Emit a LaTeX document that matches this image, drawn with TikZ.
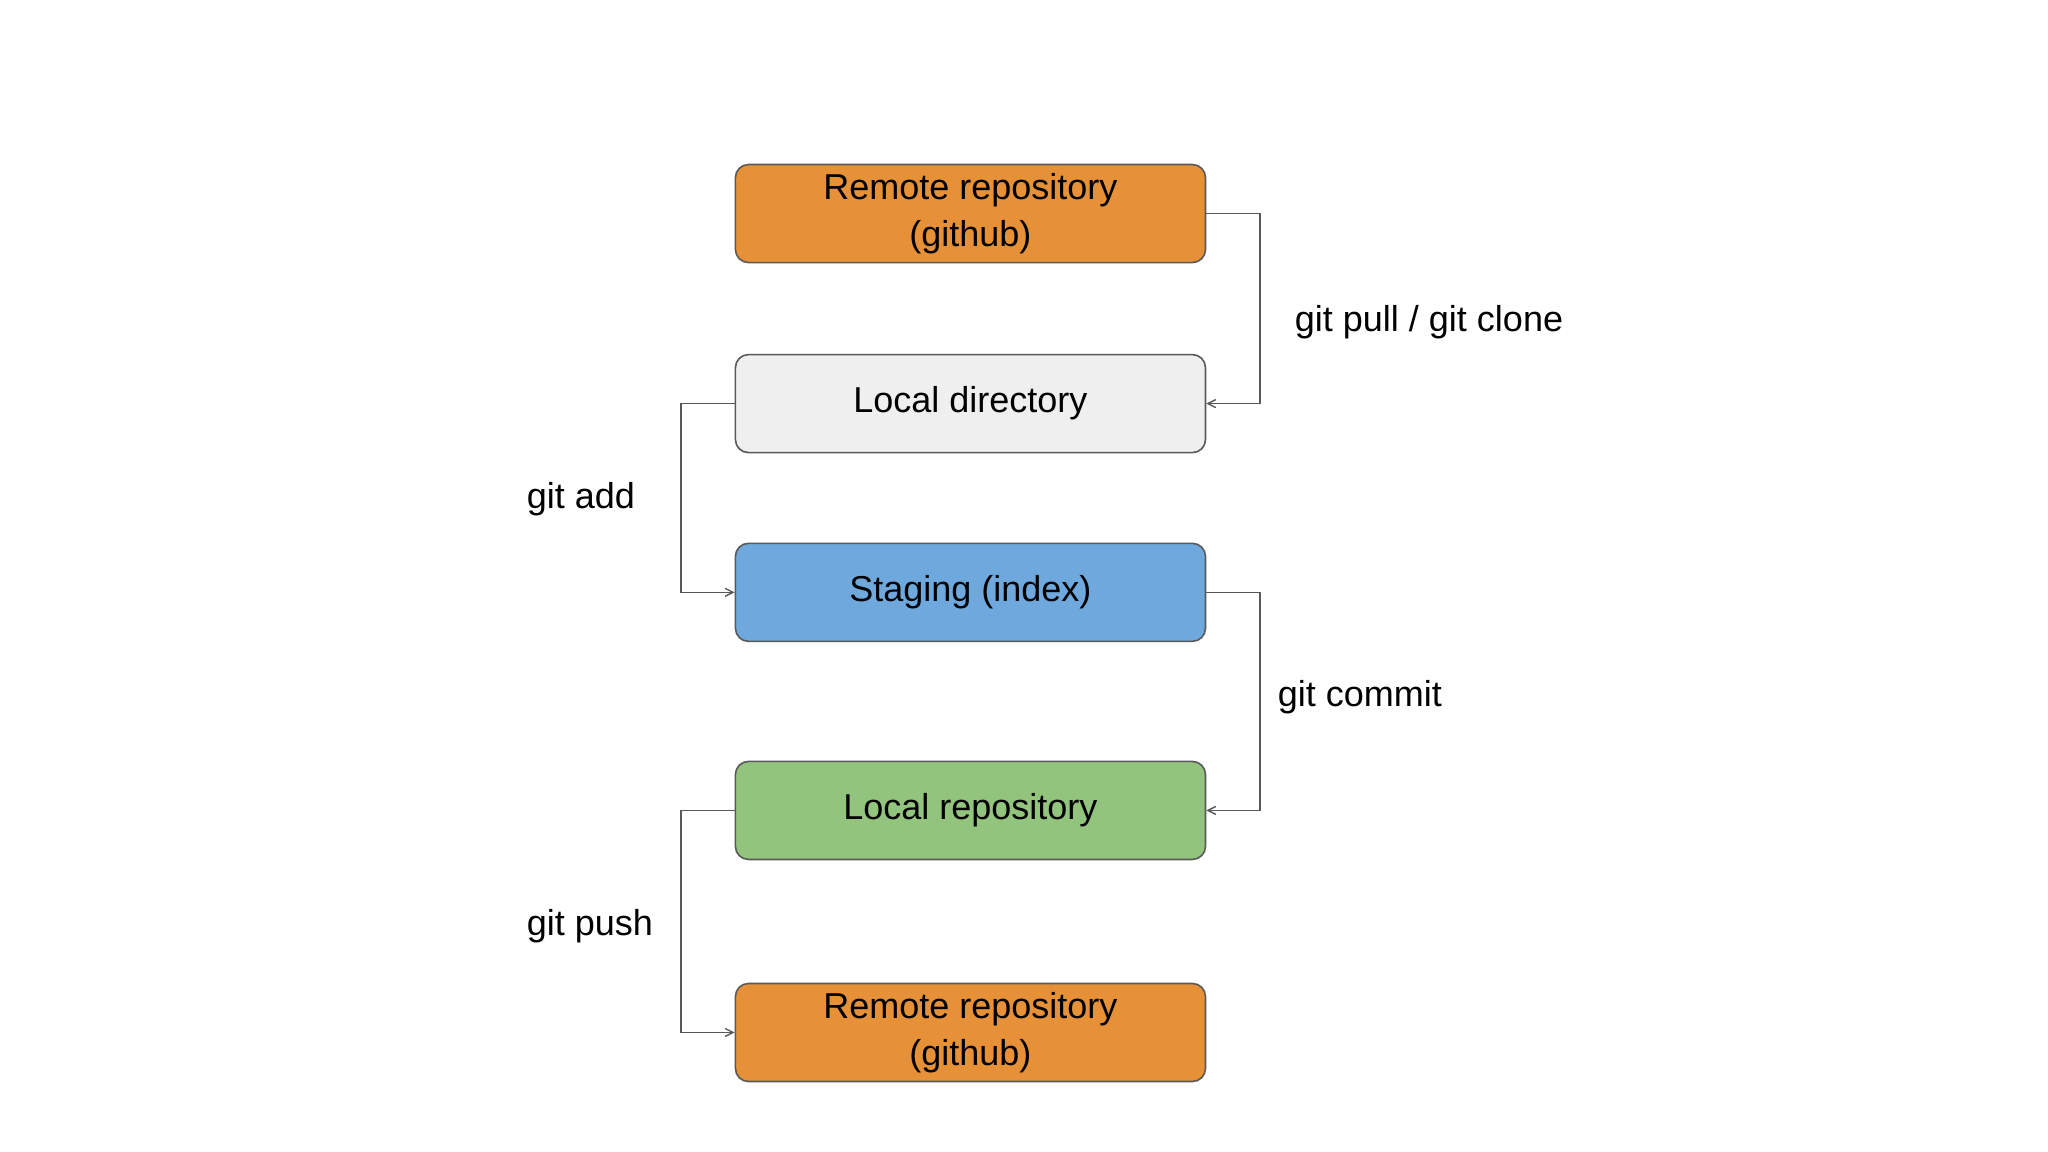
\documentclass[tikz,border=0pt]{standalone}
\usepackage{fontspec}
\setmainfont{Liberation Sans}
\usetikzlibrary{positioning,arrows.meta}
\definecolor{remoteorange}{HTML}{E69138}
\definecolor{localgray}{HTML}{EFEFEF}
\definecolor{stageblue}{HTML}{6FA8DC}
\definecolor{repogreen}{HTML}{93C47D}
\definecolor{edgegray}{HTML}{595959}
\tikzset{
  every node/.style={
    font=\fontsize{18}{23.5}\selectfont
  },
  stage/.style={
    draw=edgegray,
    line width=0.8pt,
    rounded corners=6.5pt,
    minimum width=235pt,
    minimum height=49pt,
    align=center,
    inner sep=0pt
  },
  gitstep/.style={
    draw=edgegray,
    line width=0.7pt,
    -{Straight Barb[length=4pt,width=4pt]}
  },
  cmd/.style={anchor=west}
}

\begin{document}
\begin{tikzpicture}[x=0.653pt,y=-0.653pt]
    \useasboundingbox (0,0) rectangle (1568,882);
    \node [stage, fill=remoteorange] (Remote1) at (743,163.5) {Remote repository\\(github)};
    \node [stage, fill=localgray] (Dir) at (743,309) {Local directory};
    \node [stage, fill=stageblue] (Index) at (743,453.5) {Staging (index)};
    \node [stage, fill=repogreen] (Repo) at (743,620.5) {Local repository};
    \node [stage, fill=remoteorange] (Remote2) at (743,790.5) {Remote repository\\(github)};
    \draw [gitstep] (Remote1.east) -- ++(41,0) |- (Dir.east);
    \draw [gitstep] (Dir.west) -- ++(-41,0) |- (Index.west);
    \draw [gitstep] (Index.east) -- ++(41,0) |- (Repo.east);
    \draw [gitstep] (Repo.west) -- ++(-41,0) |- (Remote2.west);
    \node [cmd] (Pull) at (986,247) {git pull / git clone};
    \node [cmd] (Add) at (398,382) {git add};
    \node [cmd] (Commit) at (973,534) {git commit};
    \node [cmd] (Push) at (398,709) {git push};
  \end{tikzpicture}
\end{document}
